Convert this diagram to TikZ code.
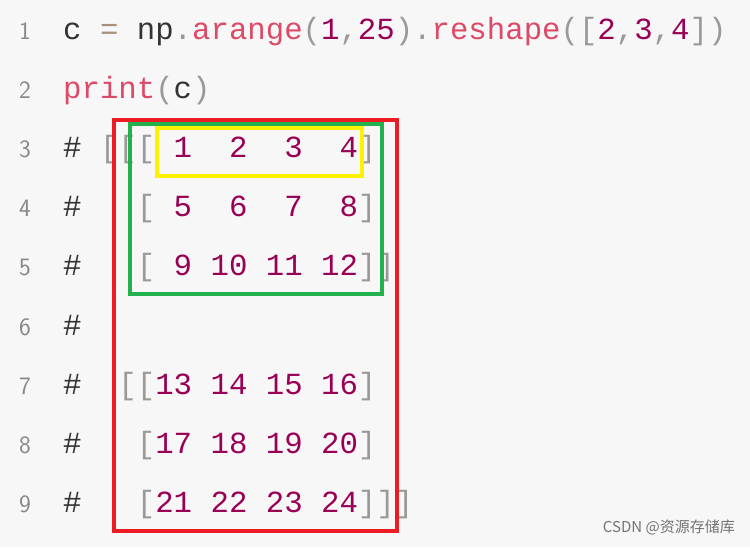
\documentclass[tikz,border=0pt]{standalone}
\usepackage{fontspec}
\setmonofont{Liberation Mono}
\newfontfamily\cjk{Noto Sans CJK SC}
\definecolor{bgc}{HTML}{F7F7F7}
\definecolor{numc}{HTML}{990055}
\definecolor{fnc}{HTML}{DD4A68}
\definecolor{punc}{HTML}{999999}
\definecolor{dk}{HTML}{333333}
\definecolor{lnc}{HTML}{888888}
\definecolor{ylw}{HTML}{FFF200}
\definecolor{grn}{HTML}{22B14C}
\definecolor{rd}{HTML}{ED1C24}
\newcommand{\N}[1]{\textcolor{numc}{#1}}
\newcommand{\F}[1]{\textcolor{fnc}{#1}}
\newcommand{\Pn}[1]{\textcolor{punc}{#1}}
\begin{document}
\begin{tikzpicture}[x=1pt,y=-1pt,
  code/.style={anchor=base west,inner sep=0pt,font=\ttfamily\fontsize{30.7}{30.7}\selectfont,text=dk},
  lno/.style={anchor=base,inner sep=0pt,font=\fontsize{25}{25}\selectfont\sffamily,text=lnc},
  box/.style={line width=3.2pt}]
\fill[bgc] (0,0) rectangle (750,547);
\useasboundingbox (0,0) rectangle (750,547);
\foreach \i in {1,...,9} {\node[lno] (l\i) at (25,{39+(\i-1)*59.2}) {\i};}
\node[code] (c1) at (63,39) {c~\textcolor{punc!70!brown}{=}~np\Pn{.}\F{arange}\Pn{(}\N{1}\Pn{,}\N{25}\Pn{)}\Pn{.}\F{reshape}\Pn{([}\N{2}\Pn{,}\N{3}\Pn{,}\N{4}\Pn{])}};
\node[code] (c2) at (63,98.2) {\F{print}\Pn{(}c\Pn{)}};
\node[code] (c3) at (63,157.4) {\#~\Pn{[[[}~\N{1}~~\N{2}~~\N{3}~~\N{4}\Pn{]}};
\node[code] (c4) at (63,216.6) {\#~~~\Pn{[}~\N{5}~~\N{6}~~\N{7}~~\N{8}\Pn{]}};
\node[code] (c5) at (63,275.8) {\#~~~\Pn{[}~\N{9}~\N{10}~\N{11}~\N{12}\Pn{]]}};
\node[code] (c6) at (63,335) {\#};
\node[code] (c7) at (63,394.2) {\#~~\Pn{[[}\N{13}~\N{14}~\N{15}~\N{16}\Pn{]}};
\node[code] (c8) at (63,453.4) {\#~~~\Pn{[}\N{17}~\N{18}~\N{19}~\N{20}\Pn{]}};
\node[code] (c9) at (63,512.6) {\#~~~\Pn{[}\N{21}~\N{22}~\N{23}~\N{24}\Pn{]]]}};
\draw[box,rd] (114,120) rectangle (397,531);
\draw[box,grn] (130,124) rectangle (382,294);
\draw[box,ylw] (157,128) rectangle (362,176);
\node[anchor=base east,inner sep=0pt,font=\cjk\fontsize{15}{15}\selectfont,text=black!55] (wm) at (735,532) {CSDN @资源存储库};
\end{tikzpicture}
\end{document}
